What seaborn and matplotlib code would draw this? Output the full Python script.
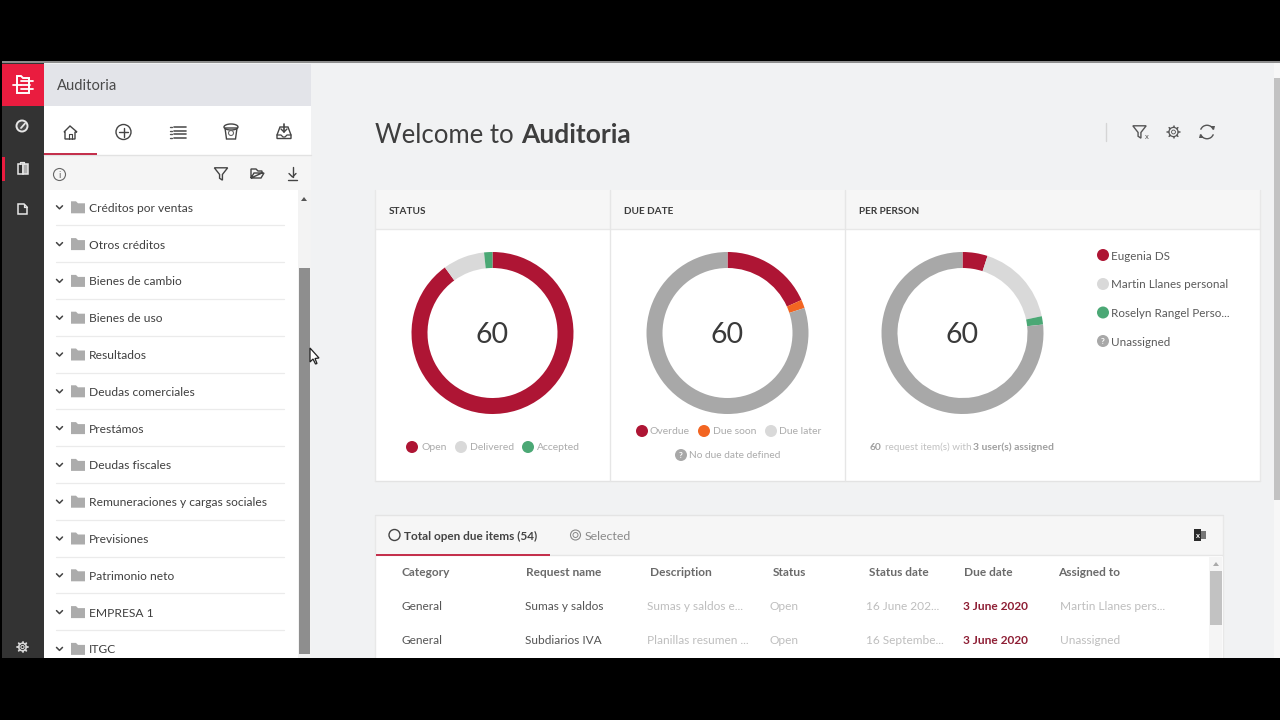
import math
import matplotlib
matplotlib.use("Agg")
import matplotlib.pyplot as plt
import seaborn as sns
from matplotlib.patches import Rectangle, Circle, Polygon, Arc

# ---------- data ----------
status_labels = ["Open", "Delivered", "Accepted"]
status_values = [54, 5, 1]
due_labels = ["Overdue", "Due soon", "Due later", "No due date defined"]
due_values = [11, 1, 0, 48]
person_labels = ["Eugenia DS", "Martin Llanes personal", "Roselyn Rangel Perso...", "Unassigned"]
person_values = [3, 10, 1, 46]
total_items = 60
folders = ["Créditos por ventas", "Otros créditos", "Bienes de cambio", "Bienes de uso",
           "Resultados", "Deudas comerciales", "Prestámos", "Deudas fiscales",
           "Remuneraciones y cargas sociales", "Previsiones", "Patrimonio neto",
           "EMPRESA 1", "ITGC"]
table_headers = ["Category", "Request name", "Description", "Status", "Status date", "Due date", "Assigned to"]
table_row_1 = ["General", "Sumas y saldos", "Sumas y saldos e...", "Open", "16 June 202...", "3 June 2020", "Martin Llanes pers..."]
table_row_2 = ["General", "Subdiarios IVA", "Planillas resumen ...", "Open", "16 Septembe...", "3 June 2020", "Unassigned"]

# ---------- theme ----------
sns.set_theme(style="white")
plt.rcParams['font.family'] = ['Lato', 'DejaVu Sans']

CRIMSON, LIGHT, GREEN, ORANGE, GREY = sns.color_palette(
    ["#AE1534", "#D9D9D9", "#4BA875", "#F26522", "#A8A8A8"])
status_colors = [CRIMSON, LIGHT, GREEN]
due_colors = [CRIMSON, ORANGE, LIGHT, GREY]
person_colors = [CRIMSON, LIGHT, GREEN, GREY]

W, H = 1280, 720
fig = plt.figure(figsize=(12.8, 7.2), dpi=100, facecolor="#F1F2F3")
bg = fig.add_axes([0, 0, 1, 1])
bg.set_xlim(0, W)
bg.set_ylim(H, 0)
bg.axis("off")


def rect(x0, y0, x1, y1, c, z=1):
    bg.add_patch(Rectangle((x0, y0), x1 - x0, y1 - y0, fc=c, ec="none", zorder=z))


def line(xs, ys, c="#555555", lw=1.0, z=3):
    bg.plot(xs, ys, color=c, lw=lw, zorder=z, solid_capstyle="round")


def label(x, y, s, size=9, c="#444444", weight="normal", ha="left", z=4):
    bg.text(x, y, s, fontsize=size, color=c, fontweight=weight, ha=ha, va="center_baseline", zorder=z)


def ring(x, y, r, ec="#555555", fc="none", lw=1.0, z=3):
    bg.add_patch(Circle((x, y), r, fc=fc, ec=ec, lw=lw, zorder=z))


def funnel(x, y, s=1.0, c="#555555"):
    pts = [(x - 7*s, y - 6*s), (x + 7*s, y - 6*s), (x + 1.5*s, y + 1*s), (x + 1.5*s, y + 7*s),
           (x - 1.5*s, y + 5*s), (x - 1.5*s, y + 1*s)]
    bg.add_patch(Polygon(pts, closed=True, fc="none", ec=c, lw=1.0, zorder=3))


def gear(x, y, r, c, lw=1.0):
    ring(x, y, r, c, "none", lw)
    ring(x, y, r * 0.42, c, "none", lw * 0.7)
    for k in range(8):
        a = k * math.pi / 4
        line([x + r * math.cos(a), x + (r + 1.6) * math.cos(a)],
             [y + r * math.sin(a), y + (r + 1.6) * math.sin(a)], c, lw * 1.2)


# ---------- main surfaces ----------
rect(0, 0, W, H, "#F1F2F3", 0)

# left nav
rect(2, 62, 44, 660, "#333333", 1)
rect(2, 64, 44, 106, "#EA1C3F", 2)
rect(2, 157, 5, 181, "#EA1C3F", 2)
# logo
bg.add_patch(Polygon([(17, 76), (21, 76), (23, 78), (29, 78), (29, 93), (17, 93)], closed=True,
                     fc="none", ec="white", lw=1.4, zorder=3))
for yy, x1 in ((81, 33), (85, 30), (89, 33)):
    line([21, x1], [yy, yy], "white", 1.3)
line([13, 21], [85, 85], "white", 1.3)
# nav icons
ring(22, 126, 5.5, "#E6E6E6", "#4A4A4A", 1.4)
line([21, 25], [128, 123.5], "#E6E6E6", 1.3)
bg.add_patch(Rectangle((17.5, 164), 5, 9.5, fc="none", ec="#E6E6E6", lw=1.1, zorder=3))
bg.add_patch(Rectangle((22.5, 164), 5, 9.5, fc="#AFAFAF", ec="#E6E6E6", lw=1.1, zorder=3))
line([19.5, 19.5, 24, 24], [164, 162, 162, 164], "#E6E6E6", 0.9)
bg.add_patch(Polygon([(18, 204), (24, 204), (27, 207), (27, 214), (18, 214)], closed=True,
                     fc="#333333", ec="#E6E6E6", lw=1.1, zorder=3))
line([24, 24, 27], [204, 207, 207], "#E6E6E6", 0.9)
gear(22.5, 647, 3.8, "#D8D8D8", 1.1)

# sidebar
rect(44, 64, 311, 106, "#E3E4E9", 1)
label(57, 85, "Auditoria", 10.6, "#4A4A4A")
rect(44, 106, 311, 155, "#FFFFFF", 1)
rect(44, 155, 311, 190, "#F5F5F5", 1)
rect(44, 190, 298, 660, "#FFFFFF", 1)
rect(298, 190, 311, 660, "#F3F3F3", 1)
rect(299, 268, 310, 654, "#8E8E8E", 2)
line([44, 311], [155, 155], "#E2E2E2", 1)
rect(44, 153, 97, 155, "#C4304C", 3)
bg.add_patch(Polygon([(301, 201), (307, 201), (304, 197)], closed=True, fc="#555555", ec="none", zorder=3))

# tab icons
bg.add_patch(Polygon([(64, 132), (70, 126), (77, 132), (75, 132), (75, 139), (65, 139), (65, 132)],
                     closed=True, fc="none", ec="#444444", lw=1.0, zorder=3))
line([68.5, 68.5, 71.5, 71.5], [139, 134, 134, 139], "#444444", 0.8)
ring(123.5, 132, 7.5, "#444444")
line([119, 128], [132, 132], "#444444")
line([123.5, 123.5], [127.5, 136.5], "#444444")
for yy in (127, 130.5, 134, 137.5):
    line([174, 185.5], [yy, yy], "#555555", 1.2)
    line([170, 172], [yy, yy], "#555555", 1.0)
bg.add_patch(Polygon([(225, 128), (237, 128), (235.5, 139), (226.5, 139)], closed=True,
                     fc="none", ec="#444444", lw=1.0, zorder=3))
bg.add_patch(Arc((231, 127), 14, 6, ec="#444444", lw=1.0, zorder=3))
ring(231, 133, 2.5, "#666666", "none", 0.8)
bg.add_patch(Polygon([(280, 127), (288, 127), (291, 135), (291, 138.5), (277, 138.5), (277, 135)], closed=True,
                     fc="none", ec="#444444", lw=1.0, zorder=3))
line([284, 284], [124, 132], "#444444", 1.2)
line([281, 284, 287], [129, 132, 129], "#444444", 1.0)
line([277, 281, 283, 285, 287, 291], [135, 135, 137, 137, 135, 135], "#444444", 0.9)

# tool row
ring(59.5, 174.5, 6, "#666666", "none", 0.8)
label(59.5, 174.5, "i", 7, "#666666", ha="center")
funnel(221, 173.5, 0.95, "#444444")
bg.add_patch(Polygon([(251, 178), (251, 169), (256, 169), (258, 171), (262, 171), (262, 173), (254, 173), (251, 178),
                      (261, 178), (264, 173), (262, 173)], closed=True, fc="none", ec="#444444", lw=1.0, zorder=3))
line([292.5, 292.5], [167, 177], "#444444", 1.0)
line([289, 292.5, 296], [173.5, 177, 173.5], "#444444", 1.0)
line([288, 297], [180, 180], "#444444", 1.0)

# folder tree
for i, name in enumerate(folders):
    y = 207.3 + i * 36.8
    line([56.5, 59.5, 62.5], [y - 1.5, y + 1.5, y - 1.5], "#444444", 1.1)
    bg.add_patch(Polygon([(71, y - 6), (76, y - 6), (78, y - 4), (85, y - 4), (85, y + 6), (71, y + 6)],
                         closed=True, fc="#ACACAC", ec="none", zorder=3))
    label(89.3, y, name, 8.65, "#3F3F3F", "normal")
    if i < len(folders) - 1:
        line([56, 284], [y + 18.1, y + 18.1], "#EBEBEB", 0.9)

# title
label(375, 133, "Welcome to ", 18.5, "#3E3E3E")
label(521.5, 133, "Auditoria", 19, "#3E3E3E", "bold")

# top-right tools
line([1106, 1106], [123, 141], "#D5D5D5", 1)
funnel(1139.5, 131.5, 0.95, "#555555")
label(1144.5, 136, "x", 5.5, "#555555")
gear(1173.5, 132, 4.6, "#555555", 0.9)
bg.add_patch(Arc((1207, 132), 13.5, 13.5, theta1=200, theta2=340, ec="#555555", lw=1.0, zorder=3))
bg.add_patch(Arc((1207, 132), 13.5, 13.5, theta1=20, theta2=160, ec="#555555", lw=1.0, zorder=3))
bg.add_patch(Polygon([(1210, 126), (1215, 126), (1214, 130)], closed=True, fc="#555555", ec="none", zorder=3))
bg.add_patch(Polygon([(1204, 138), (1199, 138), (1200, 134)], closed=True, fc="#555555", ec="none", zorder=3))

# page scrollbar
rect(1274, 62, 1280, 660, "#F7F7F7", 1)
rect(1274, 78, 1280, 500, "#C2C2C2", 2)

# donut panel
rect(375, 190, 1260, 481, "#FFFFFF", 1)
rect(375, 190, 1260, 229, "#F6F6F6", 1)
line([375, 1260], [229, 229], "#E8E8E8", 1)
line([375, 1260], [481, 481], "#E3E3E3", 1)
line([610, 610], [190, 481], "#E6E6E6", 1)
line([845, 845], [190, 481], "#E6E6E6", 1)
line([1260, 1260], [190, 481], "#E8E8E8", 1)
line([375, 375], [190, 481], "#E8E8E8", 1)
label(389, 210, "STATUS", 7.2, "#3A3A3A", "bold")
label(624, 210, "DUE DATE", 7.2, "#3A3A3A", "bold")
label(859, 210, "PER PERSON", 7.2, "#3A3A3A", "bold")


def donut(cx, cy, values, colors):
    R = 81
    ax = fig.add_axes([(cx - R) / W, (H - cy - R) / H, 2 * R / W, 2 * R / H])
    ax.pie(values, colors=colors, startangle=90, counterclock=False, radius=1,
           wedgeprops=dict(width=16 / R, linewidth=0))
    ax.set_xlim(-1, 1)
    ax.set_ylim(-1, 1)
    ax.patch.set_alpha(0)
    ax.text(0, -0.03, str(sum(values)), fontsize=20.5, color="#3A3A3A", ha="center", va="center")
    return ax


donut(492.5, 333, status_values, status_colors)
donut(727.5, 333, due_values, due_colors)
donut(962.5, 333, person_values, person_colors)


def dot(x, y, c, q=False):
    ring(x, y, 6, "none", c, 0)
    if q:
        label(x, y, "?", 6, "white", "bold", ha="center", z=5)


LEG = "#ABABAB"
for lx, tx, lab, col in zip((412, 461, 528), (421, 470, 537), status_labels, status_colors):
    dot(lx, 447, col)
    label(tx, 446.5, lab, 7.45, LEG)
for lx, tx, lab, col in zip((642, 704, 771), (650, 713, 779), due_labels[:3], due_colors[:3]):
    dot(lx, 431, col)
    label(tx, 430.5, lab, 7.45, LEG)
dot(681, 455, GREY, True)
label(689, 454.5, due_labels[3], 7.3, LEG)
for ly, lab, col in zip((255, 284, 312.5, 341), person_labels, person_colors):
    dot(1103, ly, col, lab == "Unassigned")
    label(1111, ly, lab, 8.4, "#5A5A5A")
label(870, 446.5, str(total_items), 7.4, "#A0A0A0", "bold")
label(885, 446.5, "request item(s) with", 7.1, "#C0C0C0")
label(973, 446.5, "3 user(s) assigned", 7.5, "#A0A0A0", "bold")

# table card
rect(375, 516, 1223, 660, "#FFFFFF", 1)
rect(375, 516, 1223, 555, "#F6F6F6", 1)
line([375, 1223], [515, 515], "#E4E4E4", 1)
line([375, 1223], [555, 555], "#E6E6E6", 1)
line([375, 375], [516, 660], "#E8E8E8", 1)
line([1223, 1223], [516, 660], "#E8E8E8", 1)
rect(376, 554, 550, 555.5, "#C4304C", 3)
ring(394.5, 535, 5.5, "#444444")
label(404, 535, "Total open due items (54)", 8.5, "#444444", "bold")
ring(575.5, 535, 5, "#888888", "none", 0.8)
ring(575.5, 535, 2.5, "#888888", "none", 0.7)
label(585, 535, "Selected", 8.9, "#8A8A8A")
rect(1194, 529, 1201, 541, "#2A2A2A", 3)
rect(1201, 531, 1205.5, 539, "#777777", 3)
label(1197.5, 535, "x", 5.5, "white", "bold", ha="center", z=5)

col_x = (402, 526, 650, 773, 869, 964, 1058)
row_x = (402, 525, 647, 770, 866, 963, 1060)
row_cols = ("#555555", "#555555", "#BEBEBE", "#BEBEBE", "#BEBEBE", "#8E1F35", "#BEBEBE")
for x, t in zip(col_x, table_headers):
    label(x, 572, t, 8.55, "#6A6A6A", "bold")
for row, y in zip((table_row_1, table_row_2), (605.5, 639)):
    for x, t, c in zip(row_x, row, row_cols):
        label(x, y, t, 8.6, c, "bold" if c == "#8E1F35" else "normal")
rect(1209, 557, 1222, 660, "#F5F5F5", 2)
rect(1210, 571, 1222, 625, "#C2C2C2", 3)
bg.add_patch(Polygon([(1213, 566), (1219, 566), (1216, 562)], closed=True, fc="#AAAAAA", ec="none", zorder=3))

# black letterbox
rect(0, 0, W, 61.5, "#000000", 8)
rect(0, 658, W, H, "#000000", 8)
rect(0, 61, W, 62.5, "#8C8C8C", 8)
rect(0, 0, 1.5, H, "#000000", 8)

# mouse pointer
bg.add_patch(Polygon([(310, 348), (310, 362), (313, 359), (315.5, 364), (317, 363.5), (315, 358.5), (319, 358)],
                     closed=True, fc="white", ec="#222222", lw=0.9, zorder=9))

fig.savefig("out.png", dpi=100, facecolor=fig.get_facecolor())
